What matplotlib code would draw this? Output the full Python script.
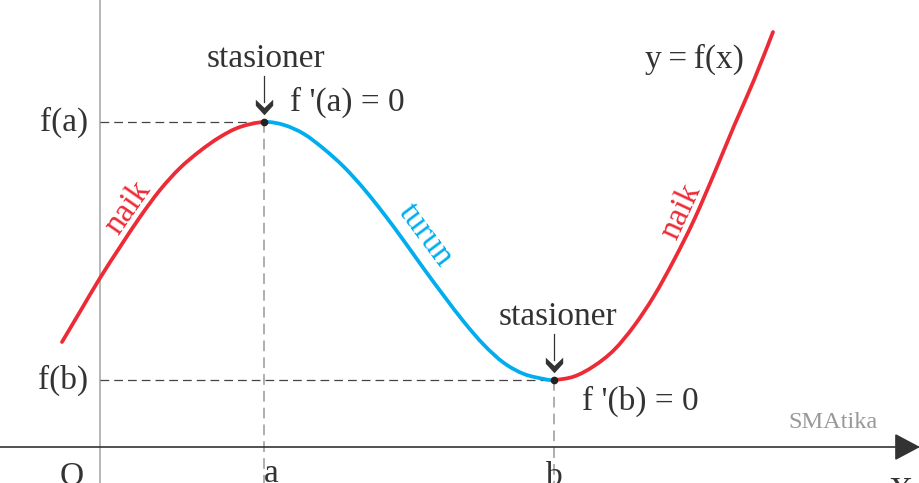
import matplotlib
matplotlib.use("Agg")
import matplotlib.pyplot as plt
import numpy as np
from matplotlib.path import Path
from matplotlib.patches import PathPatch

# ---- data (graph units, origin at O) ----
a_val, b_val = 164, 454
fa_val, fb_val = 325, 67

naik1_x = [-38, -19, 0, 20, 40, 60, 80, 100, 120, 140, 164]
naik1_y = [105, 137, 169, 200, 230, 257, 279, 296, 310, 320, 325]

turun_x = [164, 184, 204, 224, 244, 264, 284, 304, 324, 344, 364, 384, 404, 424, 444, 454]
turun_y = [325, 322, 313, 298, 280, 258, 233, 206, 178, 151, 125, 102, 84, 73, 68, 67]

naik2_x = [454, 474, 494, 514, 534, 554, 574, 594, 614, 634, 654, 673]
naik2_y = [67, 70.5, 81, 97, 121, 151, 187, 227, 273, 321, 367, 415]

RED = "#ec2b36"
BLUE = "#00adef"
TXT = "#333333"
FONT = "Liberation Serif"
FS = 24

fig = plt.figure(figsize=(9.2, 4.83), dpi=100)
ax = fig.add_axes([0, 0, 1, 1])
ax.set_xlim(-100, 820)
ax.set_ylim(-36, 447)
ax.axis("off")

# axes
ax.plot([0, 0], [-36, 447], color="#aaaaaa", lw=1.2, zorder=1)
ax.annotate("", xy=(820, 0), xytext=(-100, 0),
            arrowprops=dict(arrowstyle="-|>,head_length=16,head_width=8.5",
                            mutation_scale=1, color="#333333", lw=1.2,
                            shrinkA=0, shrinkB=0), zorder=2)

# dashed guides
for xv, yv in [(a_val, fa_val), (b_val, fb_val)]:
    ax.plot([0, xv], [yv, yv], color="#444444", lw=0.9, dashes=(7, 4), zorder=1)
    ax.plot([xv, xv], [yv, -36], color="#999999", lw=1.1, dashes=(7, 4), zorder=1)

# curve: smooth (Catmull-Rom) rendering through the read points
X = np.array(naik1_x + turun_x[1:] + naik2_x[1:], dtype=float)
Y = np.array(naik1_y + turun_y[1:] + naik2_y[1:], dtype=float)
P = np.column_stack([X, Y])
n = len(P)
Pe = np.vstack([P[0], P, P[-1]])
seg_ctrl = []
for i in range(n - 1):
    p0, p1, p2, p3 = Pe[i], Pe[i + 1], Pe[i + 2], Pe[i + 3]
    c1 = p1 + (p2 - p0) / 6.0
    c2 = p2 - (p3 - p1) / 6.0
    seg_ctrl.append((p1, c1, c2, p2))

def piece(i0, i1, color):
    verts = [seg_ctrl[i0][0]]
    codes = [Path.MOVETO]
    for i in range(i0, i1):
        _, c1, c2, p2 = seg_ctrl[i]
        verts += [c1, c2, p2]
        codes += [Path.CURVE4] * 3
    ax.add_patch(PathPatch(Path(verts, codes), fill=False, edgecolor=color,
                           lw=2.7, capstyle="round", zorder=3))

k1 = len(naik1_x) - 1
k2 = k1 + len(turun_x) - 1
piece(0, k1, RED)
piece(k1, k2, BLUE)
piece(k2, n - 1, RED)

# stationary points
ax.plot([a_val, b_val], [fa_val, fb_val], "o", color="#222222", ms=4.5, zorder=5)

# stationary arrows
chev = Path([(-1, 0.9), (-1, 0.2), (0, -0.9), (1, 0.2), (1, 0.9), (0, -0.05), (-1, 0.9)],
            [Path.MOVETO, Path.LINETO, Path.LINETO, Path.LINETO, Path.LINETO, Path.LINETO, Path.CLOSEPOLY])
for xv, yv in [(a_val, fa_val), (b_val, fb_val)]:
    ax.plot([xv, xv], [yv + 46, yv + 20], color=TXT, lw=0.9, zorder=4)
    ax.plot([xv], [yv + 15], marker=chev, ms=12.5, color=TXT, mew=0, zorder=4)

tk = dict(family=[FONT, "DejaVu Serif"], color=TXT, fontsize=FS)
ax.text(a_val + 2, fa_val + 55, "stasioner", ha="center", va="baseline", **tk)
ax.text(b_val + 4, fb_val + 55, "stasioner", ha="center", va="baseline", **tk)
ax.text(a_val + 26, fa_val + 11, "f '(a) = 0", ha="left", va="baseline", **tk)
ax.text(b_val + 28, fb_val - 30, "f '(b) = 0", ha="left", va="baseline", **tk)
ax.text(-12, fa_val, "f(a)", ha="right", va="center", **tk)
ax.text(-12, fb_val, "f(b)", ha="right", va="center", **tk)
ax.text(545, 379, "y\u2009=\u2009f(x)", ha="left", va="baseline", **tk)
ax.text(688, 19, "SMAtika", ha="left", va="baseline", family=FONT, color="#999999", fontsize=17.5)

# bottom labels
ax.text(-28, -38, "O", ha="center", va="baseline", **tk)
ax.text(a_val + 7, -35, "a", ha="center", va="baseline", **tk)
ax.text(b_val, -38, "b", ha="center", va="baseline", **tk)
ax.text(800, -53, "X", ha="center", va="baseline", **tk)

# rotated labels
rk = dict(family=FONT, fontsize=FS, ha="center", va="center", rotation_mode="anchor")
ax.text(28, 239, "naik", color=RED, rotation=55, **rk)
ax.text(325, 212, "turun", color=BLUE, rotation=-53, **rk)
ax.text(581, 236, "naik", color=RED, rotation=65, **rk)

fig.savefig("out.png", dpi=100)
